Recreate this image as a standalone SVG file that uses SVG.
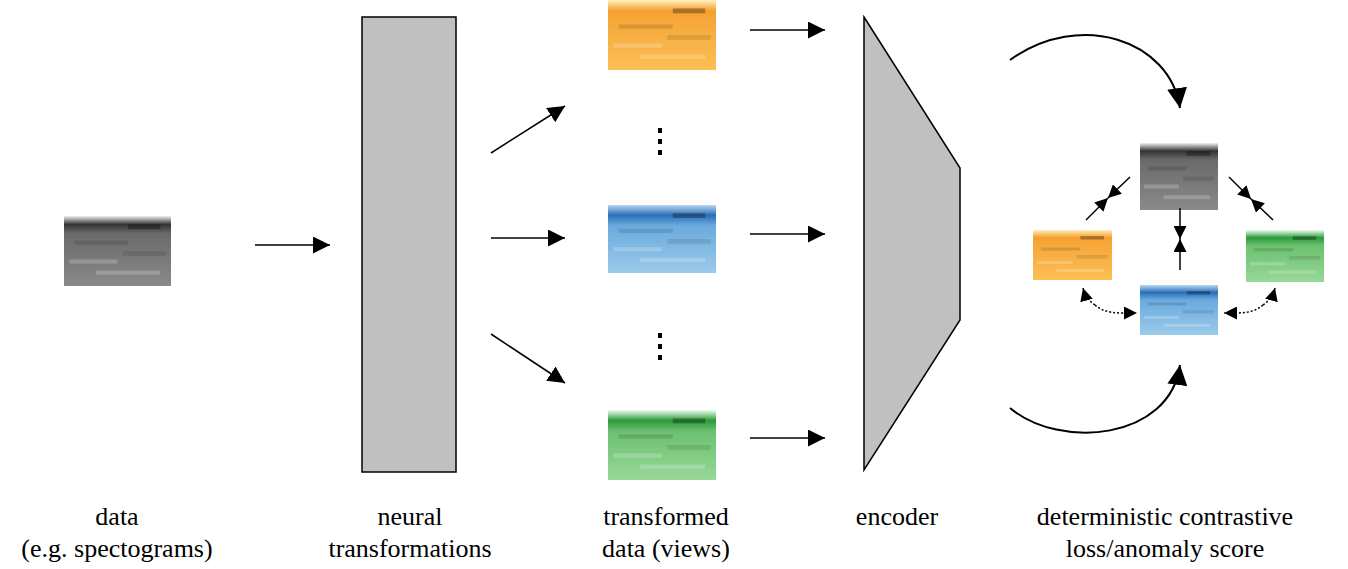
<svg xmlns="http://www.w3.org/2000/svg" width="1348" height="569" viewBox="0 0 1348 569">
<style>
.t{font-family:'Liberation Serif', 'DejaVu Serif', serif;font-size:26px;fill:#000;text-anchor:middle}
.c{stroke:#000;stroke-width:2;fill:none}
.s{stroke:#000;stroke-width:1.5;fill:none}
.d{stroke:#000;stroke-width:1.5;fill:none;stroke-dasharray:2 2}
</style>
<defs>
<marker id="a" viewBox="0 0 10 10" refX="10" refY="5" markerWidth="13" markerHeight="13" markerUnits="userSpaceOnUse" orient="auto"><path d="M0,0L10,5L0,10z"/></marker>
<marker id="b" viewBox="0 0 10 10" refX="10" refY="5" markerWidth="20" markerHeight="20" markerUnits="userSpaceOnUse" orient="auto"><path d="M0,0L10,5L0,10z"/></marker>
<marker id="m" viewBox="0 0 10 10" refX="10" refY="5" markerWidth="17" markerHeight="17" markerUnits="userSpaceOnUse" orient="auto"><path d="M0,0L10,5L0,10z"/></marker>
<linearGradient id="gk" x1="0" y1="0" x2="0" y2="1"><stop offset="0" stop-color="#f0f0f0"/><stop offset="0.12" stop-color="#333"/><stop offset="0.25" stop-color="#6a6a6a"/><stop offset="1" stop-color="#8a8a8a"/></linearGradient>
<linearGradient id="go" x1="0" y1="0" x2="0" y2="1"><stop offset="0" stop-color="#fff0c0"/><stop offset="0.15" stop-color="#f5a030"/><stop offset="0.3" stop-color="#f6a83a"/><stop offset="1" stop-color="#fbbf55"/></linearGradient>
<linearGradient id="gb" x1="0" y1="0" x2="0" y2="1"><stop offset="0" stop-color="#b8d8f0"/><stop offset="0.15" stop-color="#2a6fb8"/><stop offset="0.3" stop-color="#6aaade"/><stop offset="1" stop-color="#9ccaea"/></linearGradient>
<linearGradient id="gg" x1="0" y1="0" x2="0" y2="1"><stop offset="0" stop-color="#f0fff0"/><stop offset="0.15" stop-color="#2a9a3a"/><stop offset="0.3" stop-color="#6cc070"/><stop offset="1" stop-color="#98d898"/></linearGradient>
<pattern id="tx" width="1" height="1" patternContentUnits="objectBoundingBox">
<rect x="0.1" y="0.35" width="0.5" height="0.06" fill="#000" opacity="0.12"/>
<rect x="0.55" y="0.5" width="0.4" height="0.07" fill="#000" opacity="0.1"/>
<rect x="0.05" y="0.62" width="0.45" height="0.06" fill="#fff" opacity="0.2"/>
<rect x="0.3" y="0.78" width="0.6" height="0.06" fill="#fff" opacity="0.2"/>
<rect x="0.6" y="0.12" width="0.3" height="0.07" fill="#000" opacity="0.3"/>
</pattern>
</defs>
<g id="data"><rect x="64" y="216" width="107" height="70" fill="url(#gk)"/><rect x="64" y="216" width="107" height="70" fill="url(#tx)"/><text class="t" font-family="Liberation Serif" x="117" y="525">data</text><text class="t" font-family="Liberation Serif" x="117" y="557">(e.g. spectograms)</text></g>
<g id="neural"><rect x="362" y="17" width="94" height="455" fill="#c0c0c0" stroke="#000" stroke-width="1.5"/><text class="t" x="410" y="525">neural</text><text class="t" x="410" y="557">transformations</text></g>
<g id="views">
<rect x="608" y="0" width="108" height="70" fill="url(#go)"/><rect x="608" y="0" width="108" height="70" fill="url(#tx)"/>
<rect x="608" y="205" width="108" height="68" fill="url(#gb)"/><rect x="608" y="205" width="108" height="68" fill="url(#tx)"/>
<rect x="608" y="410" width="108" height="70" fill="url(#gg)"/><rect x="608" y="410" width="108" height="70" fill="url(#tx)"/>
<g fill="#000"><rect x="658" y="128" width="4" height="5"/><rect x="658" y="139" width="4" height="5"/><rect x="658" y="150" width="4" height="5"/><rect x="658" y="333" width="4" height="5"/><rect x="658" y="344" width="4" height="5"/><rect x="658" y="355" width="4" height="5"/></g>
<text class="t" x="666" y="525">transformed</text><text class="t" x="666" y="557">data (views)</text></g>
<g id="encoder"><path d="M864,17L960,168L960,320L864,470Z" fill="#c0c0c0" stroke="#000" stroke-width="1.5"/><text class="t" x="897" y="525">encoder</text></g>
<g id="loss">
<rect x="1140" y="143" width="78" height="67" fill="url(#gk)"/><rect x="1140" y="143" width="78" height="67" fill="url(#tx)"/>
<rect x="1033" y="230" width="79" height="50" fill="url(#go)"/><rect x="1033" y="230" width="79" height="50" fill="url(#tx)"/>
<rect x="1246" y="230" width="78" height="52" fill="url(#gg)"/><rect x="1246" y="230" width="78" height="52" fill="url(#tx)"/>
<rect x="1140" y="285" width="78" height="50" fill="url(#gb)"/><rect x="1140" y="285" width="78" height="50" fill="url(#tx)"/>
<text class="t" x="1165" y="525">deterministic contrastive</text><text class="t" x="1165" y="557">loss/anomaly score</text></g>
<g id="connectors">
<line class="s" x1="255" y1="245" x2="330" y2="245" marker-end="url(#m)"/>
<line class="s" x1="491" y1="153" x2="565" y2="106" marker-end="url(#m)"/>
<line class="s" x1="491" y1="238" x2="565" y2="238" marker-end="url(#m)"/>
<line class="s" x1="491" y1="334" x2="565" y2="383" marker-end="url(#m)"/>
<line class="s" x1="750" y1="30" x2="825" y2="30" marker-end="url(#m)"/>
<line class="s" x1="750" y1="234" x2="825" y2="234" marker-end="url(#m)"/>
<line class="s" x1="750" y1="438" x2="825" y2="438" marker-end="url(#m)"/>
<path class="c" d="M1010,60C1080,10 1170,40 1180,108" marker-end="url(#b)"/>
<path class="c" d="M1010,408C1060,450 1170,440 1180,365" marker-end="url(#b)"/>
<line class="s" x1="1130" y1="177" x2="1108" y2="198" marker-end="url(#a)"/>
<line class="s" x1="1086" y1="220" x2="1108" y2="198" marker-end="url(#a)"/>
<line class="s" x1="1229" y1="177" x2="1251" y2="199" marker-end="url(#a)"/>
<line class="s" x1="1273" y1="220" x2="1251" y2="199" marker-end="url(#a)"/>
<line class="s" x1="1180" y1="208" x2="1180" y2="239" marker-end="url(#a)"/>
<line class="s" x1="1180" y1="270" x2="1180" y2="239" marker-end="url(#a)"/>
<path class="d" d="M1095,305C1105,314 1118,313 1137,313" marker-end="url(#a)"/>
<path class="d" d="M1095,305C1088,300 1085,295 1083,288" marker-end="url(#a)"/>
<path class="d" d="M1263,305C1253,314 1240,313 1224,313" marker-end="url(#a)"/>
<path class="d" d="M1263,305C1270,300 1273,295 1275,288" marker-end="url(#a)"/>
</g>
</svg>
